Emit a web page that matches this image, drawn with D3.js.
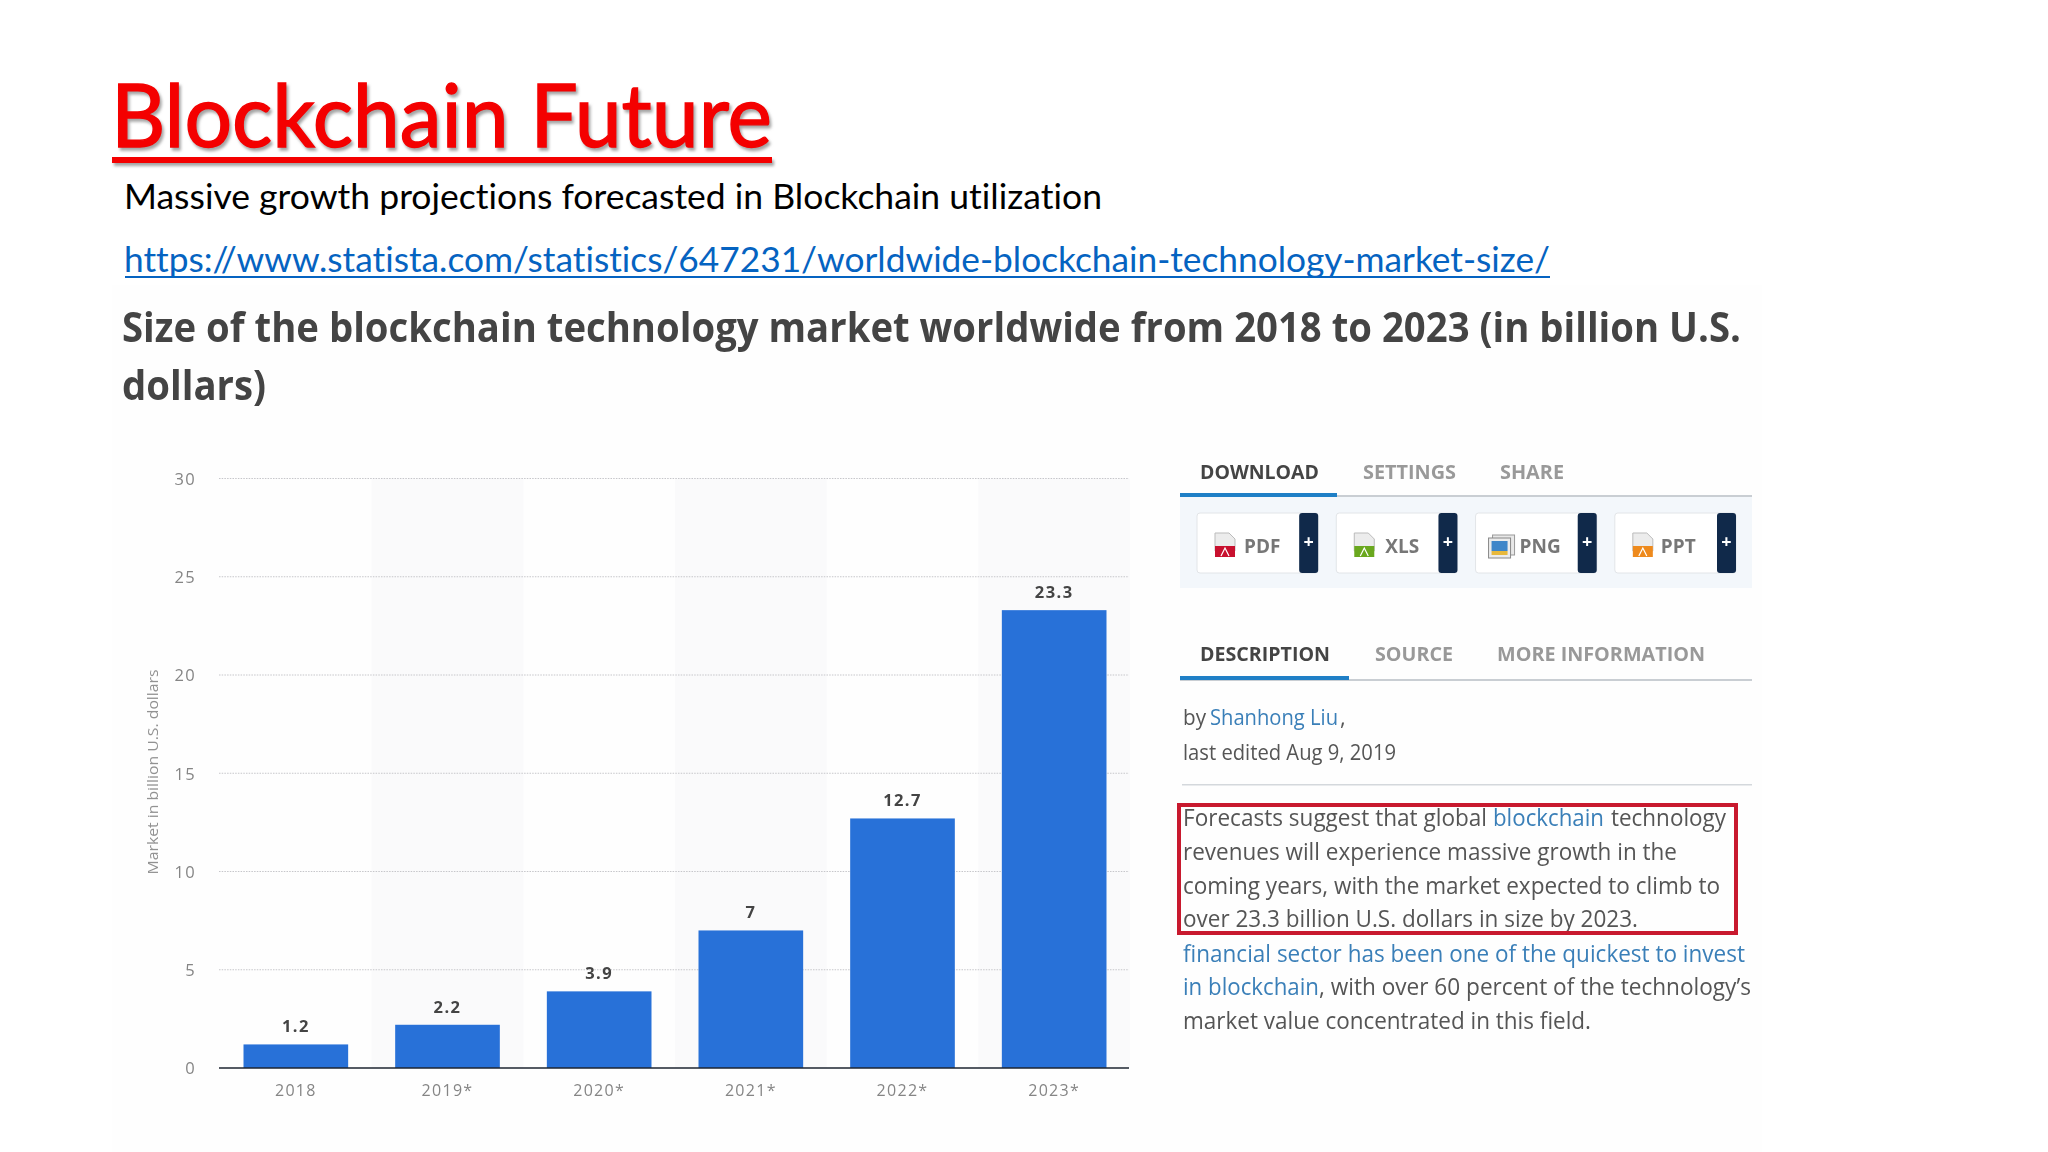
<!DOCTYPE html>
<html>
<head>
<meta charset="utf-8">
<script src="https://cdn.jsdelivr.net/npm/d3@7"></script>
<style>
  html, body { margin: 0; background: #fff; }
  svg { display: block; }
  text { font-variant-ligatures: none; }
  .slide { font-family: Lato, sans-serif; }
  .shot { font-family: "Open Sans", sans-serif; filter: blur(0.6px); }
  .axis .domain { display: none; }
  .axis .tick line { display: none; }
  .grid line { stroke: #c6c6ca; stroke-width: 1; stroke-dasharray: 1.5 1.2; }
</style>
</head>
<body>
<svg id="c" width="2048" height="1152"></svg>
<script>
// chart values
const years = ["2018", "2019*", "2020*", "2021*", "2022*", "2023*"];
const marketSize = [1.2, 2.2, 3.9, 7, 12.7, 23.3];
const valueLabels = ["1.2", "2.2", "3.9", "7", "12.7", "23.3"];
const yTicks = [0, 5, 10, 15, 20, 25, 30];
const yTitle = "Market in billion U.S. dollars";

// slide texts
const slideTitle = "Blockchain Future";
const slideSubtitle = "Massive growth projections forecasted in Blockchain utilization";
const slideLink = "https://www.statista.com/statistics/647231/worldwide-blockchain-technology-market-size/";
const heading = ["Size of the blockchain technology market worldwide from 2018 to 2023 (in billion U.S.", "dollars)"];

// side panel texts
const downloadTabs = ["DOWNLOAD", "SETTINGS", "SHARE"];
const infoTabs = ["DESCRIPTION", "SOURCE", "MORE INFORMATION"];
const formats = ["PDF", "XLS", "PNG", "PPT"];
const formatColors = ["#c8102e", "#6aa81e", "#3f86c9", "#ee8a1d"];

const svg = d3.select("#c");
const ink = "#444", soft = "#858585", linkBlue = "#3a7fb8";

function label(g, str, x, y, size, fill, opts) {
  opts = opts || {};
  const t = g.append("text")
    .attr("x", x).attr("y", y)
    .attr("font-size", size).attr("fill", fill)
    .attr("font-weight", opts.weight || 400)
    .text(str);
  if (opts.width) t.attr("textLength", opts.width).attr("lengthAdjust", "spacingAndGlyphs");
  return t;
}

svg.append("rect").attr("width", 2048).attr("height", 1152).attr("fill", "#fff");
svg.append("rect").attr("x", 112).attr("y", 285).attr("width", 1650).attr("height", 867).attr("fill", "#fefefe");

/**** slide header ****/
const head = svg.append("g").attr("class", "slide");
const titleGroup = head.append("g").style("filter", "drop-shadow(2px 3px 1.5px rgba(90,90,90,0.55))");
label(titleGroup, slideTitle, 111, 147, 88, "#f40000", { width: 661 })
  .attr("stroke", "#f40000").attr("stroke-width", 1.4);
titleGroup.append("rect").attr("x", 112).attr("y", 157).attr("width", 660).attr("height", 6).attr("fill", "#f40000");

label(head, slideSubtitle, 124, 209, 35, "#000", { width: 978 });
label(head, slideLink, 124, 272, 35, "#0563c1", { width: 1426 });
head.append("rect").attr("x", 125).attr("y", 276).attr("width", 1425).attr("height", 2).attr("fill", "#0563c1");

/**** chart ****/
const shot = svg.append("g").attr("class", "shot");
const x = d3.scaleBand().domain(years).range([220, 1130]).paddingInner(0.31).paddingOuter(0.155);
const y = d3.scaleLinear().domain([0, 30]).range([1068, 478.5]);
const bandStep = x.step();

// faint stripes behind every second year
shot.append("g").selectAll("rect")
  .data(years.filter((d, i) => i % 2 === 1))
  .join("rect")
  .attr("x", d => x(d) + x.bandwidth() / 2 - bandStep / 2)
  .attr("y", y(30))
  .attr("width", bandStep)
  .attr("height", y(0) - y(30))
  .attr("fill", "#fafafb");

shot.append("g").attr("class", "grid").selectAll("line")
  .data(yTicks.filter(d => d > 0))
  .join("line")
  .attr("x1", 219).attr("x2", 1129)
  .attr("y1", d => y(d)).attr("y2", d => y(d));

shot.append("g").selectAll("rect")
  .data(years)
  .join("rect")
  .attr("x", d => x(d))
  .attr("y", (d, i) => y(marketSize[i]))
  .attr("width", x.bandwidth())
  .attr("height", (d, i) => y(0) - y(marketSize[i]))
  .attr("fill", "#2871d8");

shot.append("line").attr("x1", 219).attr("x2", 1129).attr("y1", y(0)).attr("y2", y(0)).attr("stroke", "#1c2430").attr("stroke-width", 1.6);

shot.append("g").selectAll("text")
  .data(years)
  .join("text")
  .attr("x", d => x(d) + x.bandwidth() / 2)
  .attr("y", (d, i) => y(marketSize[i]) - 12)
  .attr("text-anchor", "middle")
  .attr("font-size", 16.5).attr("font-weight", 700).attr("letter-spacing", 1.4)
  .attr("fill", ink)
  .text((d, i) => valueLabels[i]);

const yAxis = shot.append("g").attr("class", "axis").attr("transform", "translate(196,0)")
  .call(d3.axisLeft(y).tickValues(yTicks).tickSize(0).tickPadding(0));
yAxis.selectAll("text").attr("font-size", 16.5).attr("letter-spacing", 1.3).attr("fill", soft).attr("font-family", "Open Sans").attr("dy", "0.36em");

const xAxis = shot.append("g").attr("class", "axis").attr("transform", "translate(0,1067)")
  .call(d3.axisBottom(x).tickSize(0).tickPadding(18));
xAxis.selectAll("text").attr("font-size", 16).attr("letter-spacing", 1.3).attr("fill", soft).attr("font-family", "Open Sans");

shot.append("text")
  .attr("transform", "translate(158,772) rotate(-90)")
  .attr("text-anchor", "middle")
  .attr("font-size", 15).attr("fill", "#929292")
  .attr("textLength", 205).attr("lengthAdjust", "spacingAndGlyphs")
  .text(yTitle);

// heading above the chart
label(shot, heading[0], 122, 342, 41, ink, { weight: 700, width: 1619 });
label(shot, heading[1], 122, 400, 41, ink, { weight: 700, width: 144 });

/**** side panel: download ****/
const dlX = [1200, 1363, 1500], dlW = [119, 93, 64];
downloadTabs.forEach((d, i) => label(shot, d, dlX[i], 479, 19, i === 0 ? ink : "#999", { weight: 700, width: dlW[i] }));
shot.append("rect").attr("x", 1180).attr("y", 497).attr("width", 572).attr("height", 91).attr("fill", "#f3f7fb");
shot.append("rect").attr("x", 1180).attr("y", 495).attr("width", 572).attr("height", 2).attr("fill", "#c9ced3");
shot.append("rect").attr("x", 1180).attr("y", 493).attr("width", 157).attr("height", 4).attr("fill", "#1f7fc6");

const btn = d3.scaleBand().domain(formats).range([1197, 1736]).paddingInner(0.13).paddingOuter(0);
const labelShift = [47, 49, 44, 46];
const buttons = shot.append("g").selectAll("g").data(formats).join("g")
  .attr("transform", d => `translate(${btn(d)},513)`);
buttons.append("rect").attr("width", btn.bandwidth()).attr("height", 60).attr("rx", 3)
  .attr("fill", "#fff").attr("stroke", "#e2e5e8");
buttons.append("rect").attr("x", btn.bandwidth() - 19).attr("width", 19).attr("height", 60).attr("rx", 3).attr("fill", "#10294a");
buttons.append("text").attr("x", btn.bandwidth() - 9.5).attr("y", 35).attr("text-anchor", "middle")
  .attr("font-size", 18).attr("font-weight", 700).attr("fill", "#fff").text("+");
buttons.append("text").attr("x", (d, i) => labelShift[i]).attr("y", 40)
  .attr("font-size", 19).attr("font-weight", 700).attr("fill", "#777").text(d => d);

// little file icons, the PNG one is a framed picture instead
const fileIcons = buttons.filter(d => d !== "PNG");
fileIcons.append("path").attr("d", "M18 20h14l6 6v12h-20z").attr("fill", "#ececec").attr("stroke", "#bbb");
fileIcons.append("rect").attr("x", 18).attr("y", 33).attr("width", 20).attr("height", 11)
  .attr("fill", d => formatColors[formats.indexOf(d)]);
fileIcons.append("path").attr("d", "M24 43l4-8l4 8").attr("fill", "none").attr("stroke", "#fff").attr("stroke-width", 1.2);
const pngIcon = buttons.filter(d => d === "PNG");
pngIcon.append("rect").attr("x", 17).attr("y", 22).attr("width", 22).attr("height", 20).attr("fill", "#e8e8e8").attr("stroke", "#999");
pngIcon.append("rect").attr("x", 13).attr("y", 25).attr("width", 22).attr("height", 20).attr("fill", "#ececec").attr("stroke", "#888");
pngIcon.append("rect").attr("x", 16).attr("y", 28).attr("width", 16).attr("height", 10).attr("fill", formatColors[2]);
pngIcon.append("rect").attr("x", 16).attr("y", 38).attr("width", 16).attr("height", 4).attr("fill", "#e8b93c");

/**** side panel: description ****/
const infoX = [1200, 1375, 1497], infoW = [130, 78, 208];
infoTabs.forEach((d, i) => label(shot, d, infoX[i], 661, 19, i === 0 ? ink : "#999", { weight: 700, width: infoW[i] }));
shot.append("rect").attr("x", 1180).attr("y", 679).attr("width", 572).attr("height", 2).attr("fill", "#c9ced3");
shot.append("rect").attr("x", 1180).attr("y", 676).attr("width", 169).attr("height", 4).attr("fill", "#1f7fc6");

const bodyColor = "#555";
label(shot, "by", 1183, 725, 22, bodyColor, { width: 23 });
label(shot, "Shanhong Liu", 1210, 725, 22, linkBlue, { width: 128 });
label(shot, ",", 1340, 725, 22, bodyColor);
label(shot, "last edited Aug 9, 2019", 1183, 760, 22, bodyColor, { width: 213 });
shot.append("rect").attr("x", 1182).attr("y", 784).attr("width", 570).attr("height", 1.5).attr("fill", "#d4d8dc");

label(shot, "Forecasts suggest that global", 1183, 826, 23, bodyColor, { width: 304 });
label(shot, "blockchain", 1493, 826, 23, linkBlue, { width: 111 });
label(shot, "technology", 1611, 826, 23, bodyColor, { width: 115 });
label(shot, "revenues will experience massive growth in the", 1183, 860, 23, bodyColor, { width: 494 });
label(shot, "coming years, with the market expected to climb to", 1183, 894, 23, bodyColor, { width: 537 });
label(shot, "over 23.3 billion U.S. dollars in size by 2023.", 1183, 927, 23, bodyColor, { width: 455 });
label(shot, "financial sector has been one of the quickest to invest", 1183, 962, 23, linkBlue, { width: 562 });
label(shot, "in blockchain", 1183, 995, 23, linkBlue, { width: 136 });
label(shot, ", with over 60 percent of the technology\u2019s", 1319, 995, 23, bodyColor, { width: 432 });
label(shot, "market value concentrated in this field.", 1183, 1029, 23, bodyColor, { width: 408 });

svg.append("rect").attr("x", 1179).attr("y", 805).attr("width", 557).attr("height", 128)
  .attr("fill", "none").attr("stroke", "#c8192e").attr("stroke-width", 4);
</script>
</body>
</html>
